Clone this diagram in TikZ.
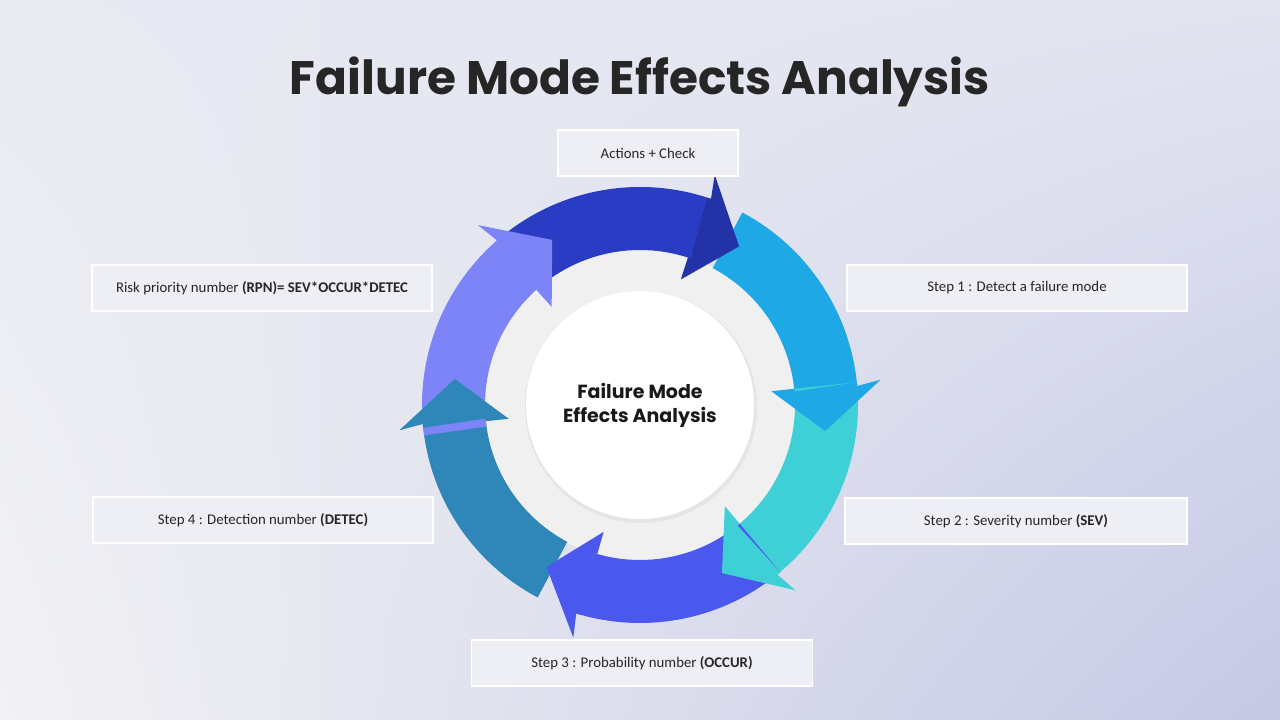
\documentclass[tikz,border=0pt]{standalone}
\usepackage{fontspec}
\usetikzlibrary{shadings}
\setmainfont{Carlito}
\newfontfamily\pop{Poppins}
\definecolor{bgA}{RGB}{232,234,242}\definecolor{bgB}{RGB}{226,228,240}
\definecolor{bgC}{RGB}{242,242,244}\definecolor{bgD}{RGB}{196,200,228}
\definecolor{cA}{RGB}{42,59,196}\definecolor{cB}{RGB}{30,168,230}\definecolor{cC}{RGB}{62,208,214}
\definecolor{cD}{RGB}{74,88,238}\definecolor{cE}{RGB}{47,134,184}\definecolor{cF}{RGB}{124,132,248}
\definecolor{boxf}{RGB}{238,239,245}
\begin{document}
\begin{tikzpicture}[x=1pt,y=1pt,
  lbl/.style={draw=white,line width=1.5pt,fill=boxf,minimum height=46pt,font=\fontsize{14.8}{17}\selectfont,text=black!85},
]
\useasboundingbox (0,0) rectangle (1280,720);
\shade[upper left=bgA,upper right=bgB,lower left=bgC,lower right=bgD] (0,0) rectangle (1280,720);
\node[font=\pop\bfseries\fontsize{47}{54}\selectfont,text=black!85] (title) at (640,638) {Failure Mode Effects Analysis};
\newcommand\ringbody[2]{\fill[#2] (#1+70:218) arc[start angle=#1+70,end angle=#1+13,radius=218] -- (#1+13:155) arc[start angle=#1+13,end angle=#1+70,radius=155] -- cycle;}
\newcommand\ringhead[2]{\fill[#2] (#1+14:218) arc[start angle=#1+14,end angle=#1+13,radius=218] -- (#1+14:242) -- (#1:187) -- (#1+14:132) -- (#1+14:155) arc[start angle=#1+14,end angle=#1+13,radius=155] -- cycle;}
\begin{scope}[shift={(640,315)}]
\fill[gray!12] (0,0) circle[radius=156];
\ringbody{58}{cA}\ringbody{-8}{cB}\ringbody{-64}{cC}\ringbody{-120}{cD}\ringbody{172}{cE}\ringbody{118}{cF}
\ringhead{58}{cA!85!black}\ringhead{-8}{cB}\ringhead{-64}{cC}\ringhead{-120}{cD}\ringhead{172}{cE}\ringhead{118}{cF}
\fill[black!10] (1,-2) circle[radius=116];
\fill[white] (0,0) circle[radius=114];
\node[font=\pop\bfseries\fontsize{19}{24}\selectfont,align=center,text=black!90] (center) at (0,0) {Failure Mode\\Effects Analysis};
\end{scope}
\node[lbl,minimum width=180pt] (ac) at (648,567) {Actions + Check};
\node[lbl,minimum width=340pt] (s1) at (1017,432) {Step 1 : Detect a failure mode};
\node[lbl,minimum width=340pt] (rpn) at (262,432) {Risk priority number \textbf{(RPN)= SEV*OCCUR*DETEC}};
\node[lbl,minimum width=342pt] (s2) at (1016,199) {Step 2 : Severity number \textbf{(SEV)}};
\node[lbl,minimum width=340pt] (s4) at (263,200) {Step 4 : Detection number \textbf{(DETEC)}};
\node[lbl,minimum width=341pt] (s3) at (642,57) {Step 3 : Probability number \textbf{(OCCUR)}};
\end{tikzpicture}
\end{document}
